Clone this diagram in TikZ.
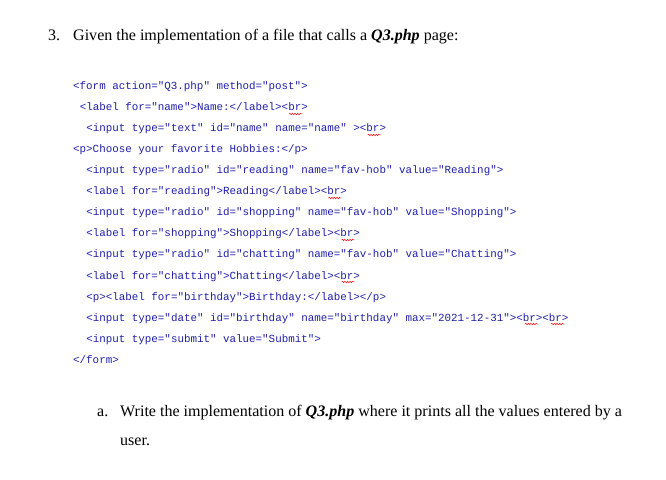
\documentclass[tikz,border=0pt]{standalone}
\usepackage{fontspec}
\setmainfont{Liberation Serif}
\setmonofont{Liberation Mono}
\usetikzlibrary{decorations.pathmorphing}
\definecolor{codeblue}{HTML}{1F1FA8}
\tikzset{
  code/.style={anchor=base west,inner sep=0pt,text=codeblue,font=\ttfamily\fontsize{10.9}{12}\selectfont},
  prose/.style={anchor=base west,inner sep=0pt,font=\fontsize{16.1}{18}\selectfont},
  squig/.style={draw=red,decorate,decoration={snake,amplitude=0.7pt,segment length=2.6pt},line width=0.5pt}
}
\newcommand{\cw}{6.55}
\begin{document}
\begin{tikzpicture}[x=1bp,y=-1bp]
\useasboundingbox (0,0) rectangle (666,480);
\node[prose] (n3) at (48,41) {3.};
\node[prose] (q) at (73,41) {Given the implementation of a file that calls a \textbf{\textit{Q3.php}} page:};
\foreach \y/\c/\t [count=\i] in {
 90/0/{<form action="Q3.php" method="post">},
 111/1/{<label for="name">Name:</label><br>},
 132/2/{<input type="text" id="name" name="name" ><br>},
 153/0/{<p>Choose your favorite Hobbies:</p>},
 174/2/{<input type="radio" id="reading" name="fav-hob" value="Reading">},
 195/2/{<label for="reading">Reading</label><br>},
 216/2/{<input type="radio" id="shopping" name="fav-hob" value="Shopping">},
 237/2/{<label for="shopping">Shopping</label><br>},
 258/2/{<input type="radio" id="chatting" name="fav-hob" value="Chatting">},
 279/2/{<label for="chatting">Chatting</label><br>},
 300/2/{<p><label for="birthday">Birthday:</label></p>},
 321/2/{<input type="date" id="birthday" name="birthday" max="2021-12-31"><br><br>},
 342/2/{<input type="submit" value="Submit">},
 363/0/{</form>}}
{\node[code] (c\i) at ({73+\c*\cw},\y) {\detokenize\expandafter{\t}};}
\foreach \y/\c in {111/33,132/45,195/39,237/41,279/41,321/69,321/73}
{\draw[squig] ({73+\c*\cw},\y+3) -- ++({2*\cw},0);}
\node[prose] (a) at (97,416) {a.};
\node[prose] (w1) at (120,416) {Write the implementation of \textbf{\textit{Q3.php}} where it prints all the values entered by a};
\node[prose] (w2) at (120,445) {user.};
\end{tikzpicture}
\end{document}
